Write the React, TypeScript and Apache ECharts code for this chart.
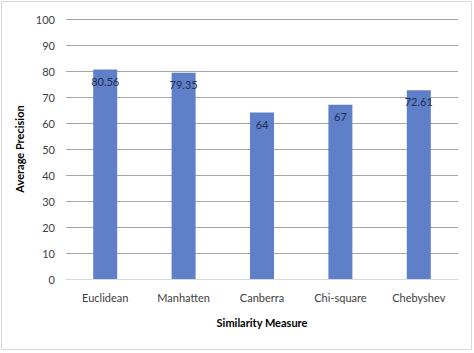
import React, { useEffect, useRef } from "react";
import * as echarts from "echarts";

const categories = ["Euclidean", "Manhatten", "Canberra", "Chi-square", "Chebyshev"];
const values = [80.56, 79.35, 64, 67, 72.61];
const labels = ["80.56", "79.35", "64", "67", "72.61"];

export default function App() {
  const ref = useRef<HTMLDivElement>(null);
  useEffect(() => {
    if (!ref.current) return;
    const chart = echarts.init(ref.current, null, { renderer: "svg" });
    chart.setOption({
      animation: false,
      backgroundColor: "#ffffff",
      textStyle: { fontFamily: "Lato" },
      graphic: [
        {
          type: "rect",
          shape: { x: 1.5, y: 1.5, width: 470, height: 348 },
          style: { fill: "none", stroke: "#d9d9d9", lineWidth: 1 },
          silent: true,
        },
      ],
      grid: { left: 66, right: 16, top: 19, bottom: 74 },
      xAxis: {
        type: "category",
        data: categories,
        name: "Similarity Measure",
        nameLocation: "middle",
        nameGap: 38,
        nameTextStyle: { fontWeight: "bold", fontSize: 11, color: "#000", fontFamily: "Lato" },
        axisLine: { lineStyle: { color: "#d9d9d9", width: 1 } },
        axisTick: { show: false },
        axisLabel: { color: "#404040", fontSize: 11, margin: 13, fontFamily: "Lato" },
      },
      yAxis: {
        type: "value",
        min: 0,
        max: 100,
        interval: 10,
        name: "Average Precision",
        nameLocation: "middle",
        nameGap: 36,
        nameTextStyle: { fontWeight: "bold", fontSize: 11, color: "#000", fontFamily: "Lato" },
        axisLine: { show: false },
        axisTick: { show: false },
        axisLabel: { color: "#404040", fontSize: 11, margin: 11, fontFamily: "Lato" },
        splitLine: { lineStyle: { color: "#a6a6a6", width: 1 } },
      },
      series: [
        {
          type: "bar",
          data: values,
          barWidth: 24,
          itemStyle: { color: "#5f7fc8" },
          label: {
            show: true,
            position: "insideTop",
            distance: 6,
            color: "#1f2d50",
            fontSize: 11,
            fontFamily: "Lato",
            formatter: (p: any) => labels[p.dataIndex],
          },
        },
      ],
    });
    return () => chart.dispose();
  }, []);
  return (
    <div
      ref={ref}
      style={{ position: "fixed", left: 0, top: 0, width: 474, height: 353 }}
    />
  );
}
